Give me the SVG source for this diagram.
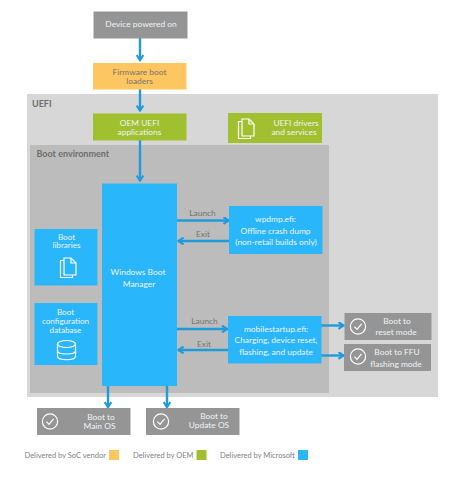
<svg xmlns="http://www.w3.org/2000/svg" width="474" height="496" viewBox="0 0 474 496">
<style>
text{font-family:Lato,"Open Sans",sans-serif;font-size:8.4px;text-anchor:middle}
.w{fill:#eef4f7}
.d{fill:#77746f}
.t{font-size:8.100px}
.h{font-weight:700;font-size:9px;text-anchor:start;fill:#6e6e6e}
.l{font-size:7.500px;fill:#7f7f7f;text-anchor:start}
.gray{fill:#959595}.blue{fill:#29b6fb}.green{fill:#a1c02f}.yellow{fill:#fec660}
.c{stroke:#1f9bdc;stroke-width:2.400;fill:none;marker-end:url(#a)}
.i{fill:none;stroke:#fff;stroke-width:1.2}
</style>
<defs>
<marker id="a" viewBox="0 0 8 8" refX="7" refY="4" markerWidth="8" markerHeight="8" markerUnits="userSpaceOnUse" orient="auto"><path d="M1.500 .6L6.500 4L1.500 7.400" fill="none" stroke="#1f9bdc" stroke-width="2.200"/></marker>
<g id="check"><circle r="7.6" class="i"/><path d="M-3.600 .2L-1 2.800L3.600 -2.600" class="i"/></g>
<g id="docs"><path d="M-4 -9H3L8 -4V8H-4Z" class="i"/><path d="M3 -9V-4H8" class="i"/><path d="M-4 -6.500H-7.500V10.500H4.500V8" class="i"/></g>
</defs>
<rect width="474" height="496" fill="#fff"/>
<g id="uefi"><rect x="27" y="94" width="411" height="303" fill="#d7d7d7"/><text class="h" x="32" y="106.500">UEFI</text></g>
<g id="boot-environment"><rect x="30" y="145" width="299" height="248" fill="#bcbcbc"/><text class="h" x="36.500" y="157">Boot environment</text></g>
<g id="connectors">
<path class="c" d="M140 38V60.500"/>
<path class="c" d="M140 89V111"/>
<path class="c" d="M140 140V181"/>
<path class="c" d="M177 220.500H229"/>
<path class="c" d="M229 241H178"/>
<path class="c" d="M177 329H227.500"/>
<path class="c" d="M228 350H178"/>
<path class="c" d="M321 325.500H344"/>
<path class="c" d="M321 355.500H344"/>
<path class="c" d="M108 386V407.500"/>
<path class="c" d="M167 386V407.500"/>
</g>
<g id="device-powered-on"><rect class="gray" x="93.500" y="11.500" width="94" height="27"/><text class="w" x="141" y="27">Device powered on</text></g>
<g id="firmware"><rect class="yellow" x="93" y="63" width="93.500" height="26.500"/><text class="d" x="139.500" y="74.500">Firmware boot<tspan x="139.500" dy="9">loaders</tspan></text></g>
<g id="oem-apps"><rect class="green" x="93" y="113.500" width="93.500" height="27"/><text class="w" x="139.500" y="125.500">OEM UEFI<tspan x="139.500" dy="9">applications</tspan></text></g>
<g id="uefi-drivers"><rect class="green" x="228" y="113" width="94" height="30"/><use href="#docs" x="246" y="128"/><text class="w" x="296" y="126">UEFI drivers<tspan x="294" dy="9">and services</tspan></text></g>
<g id="windows-boot-manager"><rect class="blue" x="102" y="183.500" width="75" height="202.500"/><text class="w" x="138" y="275">Windows Boot<tspan x="139" dy="11.500">Manager</tspan></text></g>
<g id="boot-libraries"><rect class="blue" x="34.500" y="229" width="63" height="56.500"/><text class="w t" x="66.500" y="239.500">Boot<tspan x="66.500" dy="8.800">libraries</tspan></text><use href="#docs" x="68" y="267"/></g>
<g id="bcd"><rect class="blue" x="34.500" y="303" width="63" height="62"/><text class="w t" x="65.500" y="315">Boot<tspan x="65.500" dy="8.800">configuration</tspan><tspan x="65.500" dy="8.800">database</tspan></text>
<path class="i" d="M57.500 344V356C57.500 361 75.500 361 75.500 356V344"/><ellipse class="i" cx="66.500" cy="344" rx="9" ry="3.500"/><path class="i" d="M57.500 351C57.500 355 75.500 355 75.500 351"/></g>
<g id="wpdmp"><rect class="blue" x="229" y="206" width="93.500" height="48"/><text class="w" x="275.500" y="222">wpdmp.efi:<tspan x="275.500" dy="11.500">Offline crash dump</tspan><tspan x="276" dy="11.500">(non-retail builds only)</tspan></text></g>
<g id="mobilestartup"><rect class="blue" x="228" y="316" width="93.500" height="47.500"/><text class="w" x="276" y="332">mobilestartup.efi:<tspan x="276" dy="11.300">Charging, device reset,</tspan><tspan x="276" dy="11.300">flashing, and update</tspan></text></g>
<g id="reset-mode"><rect class="gray" x="344.500" y="313" width="87" height="27"/><use href="#check" x="358" y="326.500"/><text class="w" x="397" y="323.500">Boot to<tspan x="396" dy="11.500">reset mode</tspan></text></g>
<g id="ffu-mode"><rect class="gray" x="344" y="344" width="87" height="27"/><use href="#check" x="358" y="356.500"/><text class="w" x="397" y="355">Boot to FFU<tspan x="396" dy="11.500">flashing mode</tspan></text></g>
<g id="main-os"><rect class="gray" x="37" y="408" width="93.500" height="27"/><use href="#check" x="50" y="421.500"/><text class="w" x="101" y="419.500">Boot to<tspan x="99.500" dy="9">Main OS</tspan></text></g>
<g id="update-os"><rect class="gray" x="146" y="408" width="93.500" height="27"/><use href="#check" x="161" y="421.500"/><text class="w" x="214" y="419">Boot to<tspan x="209" dy="9">Update OS</tspan></text></g>
<g id="legend">
<text class="l" x="24.500" y="458">Delivered by SoC vendor</text><rect class="yellow" x="109" y="450" width="10" height="10"/>
<text class="l" x="133" y="458">Delivered by OEM</text><rect class="green" x="196.500" y="450" width="10" height="10"/>
<text class="l" x="220" y="458">Delivered by Microsoft</text><rect class="blue" x="298" y="450" width="10" height="10"/>
</g>
<text class="d" x="202.500" y="216">Launch</text><text class="d" x="203" y="237">Exit</text><text class="d" x="204.500" y="324">Launch</text><text class="d" x="204" y="347">Exit</text>
</svg>
